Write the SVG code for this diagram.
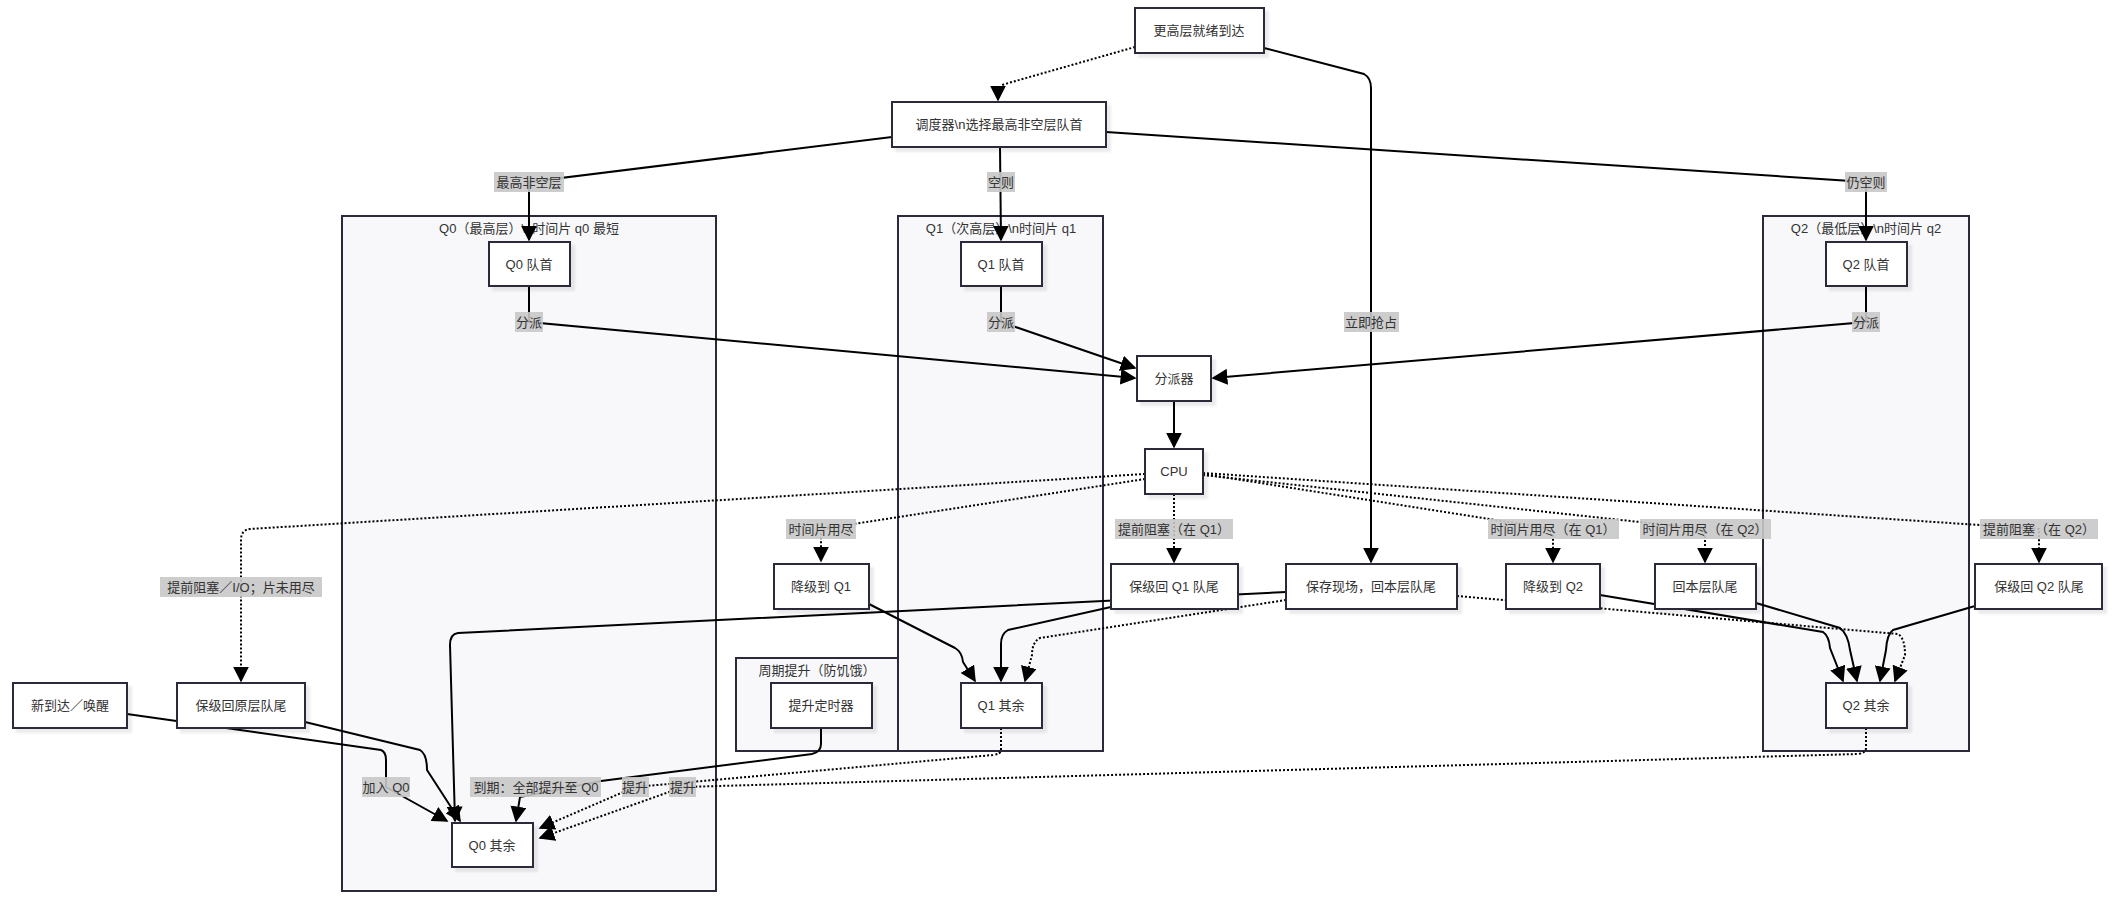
<svg xmlns="http://www.w3.org/2000/svg" width="2114" height="905" viewBox="0 0 2114 905">
<style>
text{font-family:"Liberation Sans","Noto Sans CJK SC",sans-serif;font-size:13px;fill:#333;text-anchor:middle;dominant-baseline:central}
.n rect{fill:#fff;stroke:#2a2a3a;stroke-width:2;filter:url(#sh)}
.cl{fill:#f8f8fa;stroke:#2a2a3a;stroke-width:2}
.e path{fill:none;stroke:#000;stroke-width:2}
.e .d{stroke-width:2;stroke-dasharray:2 2}
.lb rect{fill:#c8c8c8;opacity:.9}
</style>
<defs>
<filter id="sh" x="-10%" y="-10%" width="130%" height="130%"><feDropShadow dx="4" dy="4" stdDeviation="1" flood-color="#000" flood-opacity="0.08"/></filter>
<marker id="a" viewBox="0 0 10 10" refX="9" refY="5" markerWidth="8" markerHeight="8" orient="auto"><path d="M0,0L10,5L0,10z" fill="#000"/></marker>
</defs>
<g id="clusters">
<rect class="cl" x="342" y="216" width="374" height="675"/>
<text x="529" y="228">Q0（最高层）\n时间片 q0 最短</text>
<rect class="cl" x="898" y="216" width="205" height="535"/>
<text x="1001" y="228">Q1（次高层）\n时间片 q1</text>
<rect class="cl" x="1763" y="216" width="206" height="535"/>
<text x="1866" y="228">Q2（最低层）\n时间片 q2</text>
<rect class="cl" x="736" y="658" width="162" height="93"/>
<text x="817" y="670">周期提升（防饥饿）</text>
</g>
<g class="e" id="edges">
<path class="d" d="M1135,47 L1005,84 Q998,86 998,94 L998,100" marker-end="url(#a)"/>
<path d="M1264,48 L1364,74 Q1371,78 1371,88 L1371,562" marker-end="url(#a)"/>
<path d="M892,137 L529,182 L529,240" marker-end="url(#a)"/>
<path d="M1000,148 L1001,240" marker-end="url(#a)"/>
<path d="M1106,132 L1866,182 L1866,240" marker-end="url(#a)"/>
<path d="M529,286 L529,322 L1135,378" marker-end="url(#a)"/>
<path d="M1001,286 L1001,322 L1135,368" marker-end="url(#a)"/>
<path d="M1866,286 L1866,322 L1213,378" marker-end="url(#a)"/>
<path d="M1174,401 L1174,447" marker-end="url(#a)"/>
<path class="d" d="M1145,474 L250,529 Q241,530 241,540 L241,681" marker-end="url(#a)"/>
<path class="d" d="M1145,479 L821,529 L821,561" marker-end="url(#a)"/>
<path class="d" d="M1174,494 L1174,562" marker-end="url(#a)"/>
<path class="d" d="M1203,474 L1553,529 L1553,562" marker-end="url(#a)"/>
<path class="d" d="M1203,475 L1705,529 L1705,562" marker-end="url(#a)"/>
<path class="d" d="M1203,473 L2039,529 L2039,562" marker-end="url(#a)"/>
<path d="M869,604 L955,648 Q962,652 963,662 L975,681" marker-end="url(#a)"/>
<path d="M1111,607 L1008,630 Q1001,634 1001,644 L1001,681" marker-end="url(#a)"/>
<path class="d" d="M1286,600 L1040,638 Q1032,642 1032,655 L1025,681" marker-end="url(#a)"/>
<path d="M1286,592 L458,633 Q450,634 450,645 L455,821" marker-end="url(#a)"/>
<path d="M1600,595 L1823,632 Q1829,636 1830,648 L1843,681" marker-end="url(#a)"/>
<path d="M1756,603 L1840,628 Q1848,634 1850,650 L1857,681" marker-end="url(#a)"/>
<path d="M1975,606 L1893,630 Q1887,634 1886,650 L1880,681" marker-end="url(#a)"/>
<path class="d" d="M1457,596 L1898,634 Q1905,638 1905,655 L1895,681" marker-end="url(#a)"/>
<path d="M127,714 L381,750 Q386,752 386,760 L386,787 L447,821" marker-end="url(#a)"/>
<path d="M305,722 L420,750 Q427,754 427,770 L460,821" marker-end="url(#a)"/>
<path d="M821,728 L821,744 Q821,752 812,754 L601,781 L520,797 L516,821" marker-end="url(#a)"/>
<path class="d" d="M1001,728 L1001,750 Q1001,754 993,755 L635,787 L540,828" marker-end="url(#a)"/>
<path class="d" d="M1866,728 L1866,748 Q1866,753 1858,754 L683,787 L540,838" marker-end="url(#a)"/>
</g>
<g class="lb" id="labels">
<rect x="494" y="172" width="70" height="20"/><text x="529" y="182">最高非空层</text>
<rect x="987" y="172" width="28" height="20"/><text x="1001" y="182">空则</text>
<rect x="1845" y="172" width="42" height="20"/><text x="1866" y="182">仍空则</text>
<rect x="515" y="312" width="28" height="20"/><text x="529" y="322">分派</text>
<rect x="987" y="312" width="28" height="20"/><text x="1001" y="322">分派</text>
<rect x="1852" y="312" width="28" height="20"/><text x="1866" y="322">分派</text>
<rect x="1344" y="312" width="55" height="20"/><text x="1371" y="322">立即抢占</text>
<rect x="160" y="577" width="162" height="20"/><text x="241" y="587">提前阻塞／I/O；片未用尽</text>
<rect x="786" y="519" width="70" height="20"/><text x="821" y="529">时间片用尽</text>
<rect x="1115" y="519" width="118" height="20"/><text x="1174" y="529">提前阻塞（在 Q1）</text>
<rect x="1488" y="519" width="131" height="20"/><text x="1553" y="529">时间片用尽（在 Q1）</text>
<rect x="1640" y="519" width="131" height="20"/><text x="1705" y="529">时间片用尽（在 Q2）</text>
<rect x="1980" y="519" width="118" height="20"/><text x="2039" y="529">提前阻塞（在 Q2）</text>
<rect x="362" y="777" width="48" height="20"/><text x="386" y="787">加入 Q0</text>
<rect x="470" y="777" width="131" height="20"/><text x="536" y="787">到期：全部提升至 Q0</text>
<rect x="622" y="777" width="27" height="20"/><text x="635" y="787">提升</text>
<rect x="669" y="777" width="27" height="20"/><text x="683" y="787">提升</text>
</g>
<g class="n" id="n_higher"><rect x="1135" y="8" width="129" height="45"/><text x="1199" y="30">更高层就绪到达</text></g>
<g class="n" id="n_sched"><rect x="892" y="102" width="214" height="45"/><text x="999" y="124">调度器\n选择最高非空层队首</text></g>
<g class="n" id="n_q0h"><rect x="489" y="242" width="81" height="44"/><text x="529" y="264">Q0 队首</text></g>
<g class="n" id="n_q1h"><rect x="961" y="242" width="81" height="44"/><text x="1001" y="264">Q1 队首</text></g>
<g class="n" id="n_q2h"><rect x="1826" y="242" width="81" height="44"/><text x="1866" y="264">Q2 队首</text></g>
<g class="n" id="n_disp"><rect x="1137" y="356" width="74" height="45"/><text x="1174" y="378">分派器</text></g>
<g class="n" id="n_cpu"><rect x="1145" y="449" width="58" height="45"/><text x="1174" y="471">CPU</text></g>
<g class="n" id="n_new"><rect x="13" y="683" width="114" height="45"/><text x="70" y="705">新到达／唤醒</text></g>
<g class="n" id="n_keep0"><rect x="177" y="683" width="128" height="45"/><text x="241" y="705">保级回原层队尾</text></g>
<g class="n" id="n_dq1"><rect x="774" y="564" width="95" height="45"/><text x="821" y="586">降级到 Q1</text></g>
<g class="n" id="n_keep1"><rect x="1111" y="564" width="127" height="45"/><text x="1174" y="586">保级回 Q1 队尾</text></g>
<g class="n" id="n_save"><rect x="1286" y="564" width="171" height="45"/><text x="1371" y="586">保存现场，回本层队尾</text></g>
<g class="n" id="n_dq2"><rect x="1506" y="564" width="94" height="45"/><text x="1553" y="586">降级到 Q2</text></g>
<g class="n" id="n_back"><rect x="1655" y="564" width="101" height="45"/><text x="1705" y="586">回本层队尾</text></g>
<g class="n" id="n_keep2"><rect x="1975" y="564" width="127" height="45"/><text x="2039" y="586">保级回 Q2 队尾</text></g>
<g class="n" id="n_timer"><rect x="771" y="683" width="101" height="45"/><text x="821" y="705">提升定时器</text></g>
<g class="n" id="n_q1r"><rect x="961" y="683" width="81" height="45"/><text x="1001" y="705">Q1 其余</text></g>
<g class="n" id="n_q2r"><rect x="1826" y="683" width="81" height="45"/><text x="1866" y="705">Q2 其余</text></g>
<g class="n" id="n_q0r"><rect x="452" y="823" width="81" height="44"/><text x="492" y="845">Q0 其余</text></g>
</svg>
